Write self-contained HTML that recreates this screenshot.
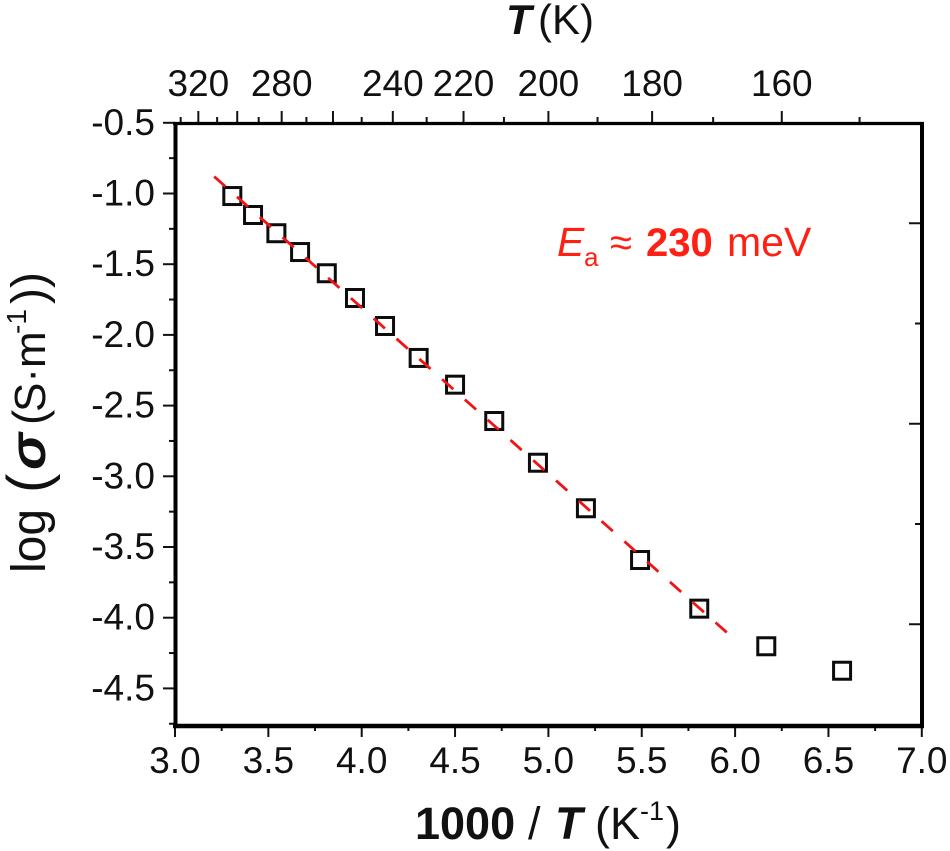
<!DOCTYPE html>
<html>
<head>
<meta charset="utf-8">
<style>
html,body{margin:0;padding:0;background:#fff;width:950px;height:851px;overflow:hidden}
svg{display:block;filter:blur(0.35px)}
text{font-family:"Liberation Sans",sans-serif;fill:#111}
</style>
</head>
<body>
<svg id="chart" width="950" height="851" viewBox="0 0 950 851" xmlns="http://www.w3.org/2000/svg">
  <g id="ticks"></g>
  <g id="labels"></g>
  <g id="points"></g>
  <g id="fit-top"></g>
  <line x1="175.5" y1="122" x2="175.5" y2="728" stroke="#000" stroke-width="4"/>
  <line x1="173" y1="123.5" x2="924" y2="123.5" stroke="#000" stroke-width="3.2"/>
  <line x1="922" y1="122" x2="922" y2="728" stroke="#000" stroke-width="4"/>
  <line x1="173" y1="726" x2="924" y2="726" stroke="#000" stroke-width="4.6"/>

  <text font-size="42" y="34"><tspan x="506" font-weight="bold" font-style="italic">T</tspan><tspan x="538">(K)</tspan></text>

  <text font-size="45" y="839"><tspan x="415" font-weight="bold">1000</tspan><tspan x="528">/</tspan><tspan x="555" font-weight="bold" font-style="italic">T</tspan><tspan x="595">(K</tspan></text>
  <text font-size="27" x="640" y="820">-1</text>
  <text font-size="45" x="666" y="839">)</text>

  <g transform="translate(45,570) rotate(-90)">
    <text font-size="48" x="-3" y="0">log</text>
    <text font-size="58" x="77" y="3">(</text>
    <text font-size="50" font-weight="bold" font-style="italic" x="100" y="0" textLength="37" lengthAdjust="spacingAndGlyphs">σ</text>
    <text font-size="46" x="145" y="0">(</text>
    <text font-size="44" x="158" y="0">S·m</text>
    <text font-size="28" x="236" y="-19">-1</text>
    <text font-size="48" x="266" y="0">))</text>
  </g>

  <g>
    <text font-size="41" font-style="italic" x="557" y="256" style="fill:#ff2014">E</text>
    <text font-size="26" x="584" y="266" style="fill:#ff2014">a</text>
    <text font-size="40" x="610" y="256" style="fill:#ff2014">≈</text>
    <text font-size="40" font-weight="bold" x="646" y="256" style="fill:#ff2014">230</text>
    <text font-size="41" x="727" y="256" style="fill:#ff2014">meV</text>
  </g>
</svg>
<script>
var xData = [3.307, 3.418, 3.543, 3.670, 3.813, 3.964, 4.125, 4.305, 4.500, 4.710, 4.944, 5.201, 5.491, 5.808, 6.167, 6.573];
var yData = [-1.018, -1.152, -1.281, -1.414, -1.564, -1.739, -1.937, -2.163, -2.352, -2.609, -2.904, -3.226, -3.592, -3.936, -4.202, -4.375];
var fitX = [3.21, 5.96];
var fitY = [-0.88, -4.11];
var xMajorTicks = [3.0, 3.5, 4.0, 4.5, 5.0, 5.5, 6.0, 6.5, 7.0];
var xMinorTicks = [3.25, 3.75, 4.25, 4.75, 5.25, 5.75, 6.25, 6.75];
var yMajorTicks = [-0.5, -1.0, -1.5, -2.0, -2.5, -3.0, -3.5, -4.0, -4.5];
var yMinorTicks = [-0.75, -1.25, -1.75, -2.25, -2.75, -3.25, -3.75, -4.25, -4.75];
var rightMajorTicks = [-1, -2, -3];
var rightMinorTicks = [-1.5, -2.5];
var topMajorTemps = [320, 300, 280, 260, 240, 220, 200, 180, 160];
var topMinorTemps = [330, 310, 290, 270, 250, 230, 210, 190, 170, 150];
var topLabelTemps = [320, 280, 240, 220, 200, 180, 160];

var SVGNS = 'http://www.w3.org/2000/svg';
function xScale(v) { return 175 + (v - 3) * 186.7; }
function yScale(v) { return 122.8 + (-0.5 - v) * 141.4; }
function yRightScale(v) { return 123 + (-0.5 - v) * 200.5; }
function tempScale(t) { return xScale(1000 / t); }
function make(parent, tag) {
  var el = document.createElementNS(SVGNS, tag);
  document.getElementById(parent).appendChild(el);
  return el;
}
function setLine(el, x1, y1, x2, y2, w, color) {
  el.setAttribute('x1', x1);
  el.setAttribute('y1', y1);
  el.setAttribute('x2', x2);
  el.setAttribute('y2', y2);
  el.setAttribute('stroke', color);
  el.setAttribute('stroke-width', w);
}
function setText(el, x, y, anchor, size, str) {
  el.setAttribute('x', x);
  el.setAttribute('y', y);
  el.setAttribute('text-anchor', anchor);
  el.setAttribute('font-size', size);
  el.textContent = str;
}
var TW = 2;
xMajorTicks.forEach(function (v) {
  var t = make('ticks', 'line');
  
  
  setLine(t, xScale(v), 726, xScale(v), 737, TW, '#111');
  var l = make('labels', 'text');
  
  
  setText(l, xScale(v), 773, 'middle', 37, v.toFixed(1));
});
xMinorTicks.forEach(function (v) {
  var t = make('ticks', 'line');
  
  
  setLine(t, xScale(v), 726, xScale(v), 731, TW, '#111');
});
yMajorTicks.forEach(function (v) {
  var t = make('ticks', 'line');
  
  
  setLine(t, 163, yScale(v), 175, yScale(v), TW, '#111');
  var l = make('labels', 'text');
  
  
  setText(l, 155, yScale(v) + 12, 'end', 37, v.toFixed(1));
});
yMinorTicks.forEach(function (v) {
  var t = make('ticks', 'line');
  
  
  setLine(t, 169, yScale(v), 175, yScale(v), TW, '#111');
});
rightMajorTicks.forEach(function (v) {
  var t = make('ticks', 'line');
  
  
  setLine(t, 909, yRightScale(v), 921, yRightScale(v), TW, '#111');
});
rightMinorTicks.forEach(function (v) {
  var t = make('ticks', 'line');
  
  
  setLine(t, 915, yRightScale(v), 921, yRightScale(v), TW, '#111');
});
topMajorTemps.forEach(function (v) {
  var t = make('ticks', 'line');
  
  
  setLine(t, tempScale(v), 111, tempScale(v), 123, TW, '#111');
});
topMinorTemps.forEach(function (v) {
  var t = make('ticks', 'line');
  
  
  setLine(t, tempScale(v), 117, tempScale(v), 123, TW, '#111');
});
topLabelTemps.forEach(function (v) {
  var l = make('labels', 'text');
  
  
  setText(l, tempScale(v), 96, 'middle', 37, String(v));
});
xData.forEach(function (v, i) {
  var r = make('points', 'rect');
  
  
  r.setAttribute('x', xScale(v) - 8.5);
  r.setAttribute('y', yScale(yData[i]) - 8.5);
  r.setAttribute('width', 17);
  r.setAttribute('height', 17);
  r.setAttribute('fill', 'none');
  r.setAttribute('stroke', '#0c0c0c');
  r.setAttribute('stroke-width', 3);
});
var fit = make('fit-top', 'line');


setLine(fit, xScale(fitX[0]), yScale(fitY[0]), xScale(fitX[1]), yScale(fitY[1]), 2.8, '#f01414');
fit.setAttribute('stroke-dasharray', '15 15.5');
</script>
</body>
</html>
